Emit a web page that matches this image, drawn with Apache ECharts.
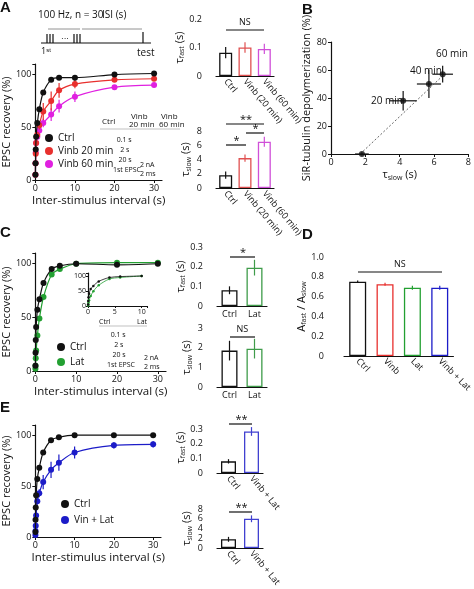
<!DOCTYPE html>
<html><head><meta charset="utf-8">
<script src="https://cdn.jsdelivr.net/npm/echarts@6/dist/echarts.min.js"></script>
<style>html,body{margin:0;padding:0;background:#fff}#c{width:474px;height:589px}</style>
</head><body><div id="c"></div>
<script>
// recovery curves
const isi = [0.02, 0.05, 0.1, 0.2, 0.5, 1, 2, 4, 6, 10, 20, 30];
const aCtrl = [5, 16, 29, 41, 54, 67, 83, 95, 97, 97, 100, 101];
const aVinb20 = [5, 16, 25, 35, 43, 52, 65, 75, 85, 91, 95, 96];
const aVinb20Err = [0, 0, 0, 0, 2, 4, 8, 9, 7, 4, 2, 2];
const aVinb60 = [5, 16, 26, 35, 41, 47, 54, 62, 70, 79, 88, 90];
const aVinb60Err = [0, 0, 0, 0, 2, 3, 4, 6, 6, 5, 2, 2];
const cCtrl = [5, 17, 29, 41, 57, 67, 82, 95, 98, 100, 99, 100];
const cLat = [2, 5, 12, 19, 33, 49, 69, 90, 95, 100, 101, 101];
const eCtrl = [5, 17, 29, 41, 57, 68, 83, 95, 98, 100, 100, 100];
const eVinLat = [2, 6, 11, 21, 35, 43, 54, 66, 73, 83, 90, 91];
const eVinLatErr = [0, 0, 0, 2, 3, 4, 7, 8, 8, 6, 3, 3];

// bar panels
const aCats = ["Ctrl", "Vinb (20 min)", "Vinb (60 min)"];
const aFast = [0.082, 0.1, 0.095], aFastErr = [0.02, 0.018, 0.018];
const aSlow = [1.8, 4.2, 6.5], aSlowErr = [0.5, 0.5, 0.7];
const cCats = ["Ctrl", "Lat"];
const cFast = [0.08, 0.195], cFastErr = [0.02, 0.04];
const cSlow = [1.85, 1.95], cSlowErr = [0.5, 0.5];
const dCats = ["Ctrl", "Vinb", "Lat", "Vinb + Lat"];
const dRatio = [0.75, 0.725, 0.69, 0.69], dRatioErr = [0.012, 0.015, 0.02, 0.02];
const eCats = ["Ctrl", "Vinb + Lat"];
const eFast = [0.08, 0.285], eFastErr = [0.015, 0.03];
const eSlow = [1.8, 6.0], eSlowErr = [0.5, 0.7];

// panel B
const bLabels = ["", "20 min", "40 min", "60 min"];
const bTau = [1.8, 4.2, 5.7, 6.5], bTauErr = [0.4, 0.8, 0.7, 0.6];
const bDepol = [0, 38, 50, 57], bDepolErr = [1, 7, 10, 6];

const BLACK = "#111", RED = "#e8302e", MAG = "#e020e0", GREEN = "#23a032", BLUE = "#1c1cc8";
const FONT = "Open Sans";
const grid = [], xAxis = [], yAxis = [], series = [], legend = [];

const axisBase = {
  axisLine: { lineStyle: { color: BLACK, width: 1.2 } },
  axisTick: { lineStyle: { color: BLACK } , length: 3},
  axisLabel: { color: BLACK, fontSize: 9, fontFamily: FONT, margin: 4 },
  splitLine: { show: false },
  nameTextStyle: { color: BLACK, fontSize: 11, fontFamily: FONT,
    rich: { s: { fontSize: 7, verticalAlign: "bottom", padding: [6, 0, 0, 0] } } }
};

function addGrid(g) { grid.push(Object.assign({ containLabel: false }, g)); return grid.length - 1; }

function errSeries(gi, data, color, horiz) {
  series.push({
    type: "custom", xAxisIndex: gi, yAxisIndex: gi, silent: true, z: 3,
    data: data,
    renderItem: (p, api) => {
      const x = api.value(0), y = api.value(1), e = api.value(2);
      const a = horiz ? api.coord([x - e, y]) : api.coord([x, y - e]);
      const b = horiz ? api.coord([x + e, y]) : api.coord([x, y + e]);
      return { type: "line", shape: { x1: a[0], y1: a[1], x2: b[0], y2: b[1] },
        style: { stroke: color, lineWidth: 1.2 } };
    }
  });
}

function recovery(g, lines, yName) {
  const gi = addGrid(g);
  xAxis.push(Object.assign({}, axisBase, { gridIndex: gi, type: "value", min: 0, max: 32, interval: 10,
    name: "Inter-stimulus interval (s)", nameLocation: "middle", nameGap: 15,
    nameTextStyle: Object.assign({}, axisBase.nameTextStyle, { fontSize: 11.5 }) }));
  yAxis.push(Object.assign({}, axisBase, { gridIndex: gi, type: "value", min: 0, max: 110, interval: 50,
    axisLabel: Object.assign({}, axisBase.axisLabel, { formatter: v => Number(v) > 100 ? "" : v }),
    name: yName, nameLocation: "middle", nameGap: 20, nameRotate: 90 }));
  lines.forEach(l => {
    series.push({ type: "line", name: l.name, xAxisIndex: gi, yAxisIndex: gi, smooth: 0.3,
      symbol: "circle", symbolSize: l.size || 6, showSymbol: true,
      itemStyle: { color: l.color }, lineStyle: { color: l.color, width: 1.2 },
      data: isi.map((x, i) => [x, l.y[i]]).filter(d => d[0] <= (l.xmax || 99)), z: l.z || 2 });
    if (l.err) errSeries(gi, isi.map((x, i) => [x, l.y[i], l.err[i]]).filter(d => d[2] > 0), l.color);
  });
  return gi;
}

function sub(main, s, unit) { return "{m|" + main + "}{s|" + s + "}" + (unit || ""); }

function bars(g, cats, vals, errs, colors, o) {
  const gi = addGrid(g);
  xAxis.push(Object.assign({}, axisBase, { gridIndex: gi, type: "category", data: cats,
    axisTick: { show: false },
    axisLabel: Object.assign({}, axisBase.axisLabel, { rotate: o.rotate || 0, interval: 0, fontSize: 9 }) }));
  yAxis.push(Object.assign({}, axisBase, { gridIndex: gi, type: "value", min: 0, max: o.max, interval: o.interval,
    offset: o.offset || 0,
    axisLabel: Object.assign({}, axisBase.axisLabel, { formatter: o.fmt || (v => v) }),
    name: o.name, nameLocation: "middle", nameGap: o.nameGap || 18, nameRotate: 90,
    nameTextStyle: Object.assign({}, axisBase.nameTextStyle, { fontSize: o.nameSize || 11,
      rich: { m: { fontSize: o.nameSize || 11, fontFamily: FONT }, s: { fontSize: 7, fontFamily: FONT, padding: [5, 0, 0, 0] } } }) }));
  series.push({ type: "bar", xAxisIndex: gi, yAxisIndex: gi, barWidth: o.barWidth || 14,
    data: vals.map((v, i) => ({ value: v, itemStyle: { color: "#fff", borderColor: colors[i], borderWidth: 1.3 } })) });
  series.push({
    type: "custom", xAxisIndex: gi, yAxisIndex: gi, silent: true, z: 3,
    data: vals.map((v, i) => [i, v, errs[i]]),
    renderItem: (p, api) => {
      const i = api.value(0), v = api.value(1), e = api.value(2);
      const a = api.coord([i, v - e]), b = api.coord([i, v + e]);
      return { type: "line", shape: { x1: a[0], y1: a[1], x2: b[0], y2: b[1] },
        style: { stroke: colors[i], lineWidth: 1.2 } };
    }
  });
}

// Panel A
recovery({ left: 31, top: 64, width: 131, height: 116 }, [
  { name: "Vinb 60 min", y: aVinb60, err: aVinb60Err, color: MAG },
  { name: "Vinb 20 min", y: aVinb20, err: aVinb20Err, color: RED },
  { name: "Ctrl", y: aCtrl, color: BLACK, z: 4 }
], "EPSC recovery (%)");
legend.push({ left: 40, top: 128, orient: "vertical", itemGap: 3, itemWidth: 8, itemHeight: 8, selectedMode: false,
  data: ["Ctrl", "Vinb 20 min", "Vinb 60 min"].map(n => ({ name: n, icon: "circle" })),
  textStyle: { fontSize: 10, fontFamily: FONT, color: BLACK } });
const aColors = [BLACK, "#e05050", "#d050d8"];
bars({ left: 216, top: 19, width: 58, height: 57 }, aCats, aFast, aFastErr, aColors,
  { max: 0.2, interval: 0.1, offset: 10, rotate: -50, name: sub("τ", "fast", " (s)"), barWidth: 13 });
bars({ left: 216, top: 131, width: 58, height: 57 }, aCats, aSlow, aSlowErr, aColors,
  { max: 8, interval: 2, offset: 10, rotate: -50, name: sub("τ", "slow", " (s)"), barWidth: 13, nameGap: 14 });

// Panel B
const gB = addGrid({ left: 331, top: 42, width: 140, height: 112 });
xAxis.push(Object.assign({}, axisBase, { gridIndex: gB, type: "value", min: 0, max: 8, interval: 2,
  name: sub("τ", "slow", " (s)"), nameLocation: "middle", nameGap: 15,
  nameTextStyle: Object.assign({}, axisBase.nameTextStyle, { rich: { m: { fontSize: 11 }, s: { fontSize: 7, padding: [5, 0, 0, 0] } } }) }));
yAxis.push(Object.assign({}, axisBase, { gridIndex: gB, type: "value", min: 0, max: 80, interval: 20,
  name: "SiR-tubulin depolymerization (%)", nameLocation: "middle", nameGap: 18, nameRotate: 90 }));
series.push({ type: "line", xAxisIndex: gB, yAxisIndex: gB, symbol: "none", silent: true,
  lineStyle: { color: "#555", width: 0.9, type: [2, 2] },
  data: [[bTau[0] - 0.1, bDepol[0]], [bTau[3] + 0.1, bDepol[3]]] });
errSeries(gB, bTau.map((x, i) => [x, bDepol[i], bTauErr[i]]), BLACK, true);
errSeries(gB, bTau.map((x, i) => [x, bDepol[i], bDepolErr[i]]), BLACK, false);
series.push({ type: "scatter", xAxisIndex: gB, yAxisIndex: gB, symbolSize: 6, itemStyle: { color: BLACK }, z: 4,
  data: bTau.map((x, i) => [x, bDepol[i]]) });

// Panel C
recovery({ left: 31, top: 253, width: 135, height: 118 }, [
  { name: "Lat", y: cLat, color: GREEN },
  { name: "Ctrl", y: cCtrl, color: BLACK, z: 4 }
], "EPSC recovery (%)");
legend.push({ left: 52, top: 337, orient: "vertical", itemGap: 5, itemWidth: 8, itemHeight: 8, selectedMode: false,
  data: ["Ctrl", "Lat"].map(n => ({ name: n, icon: "circle" })),
  textStyle: { fontSize: 10, fontFamily: FONT, color: BLACK } });
// C inset
const gCi = addGrid({ left: 88, top: 273, width: 59, height: 33 });
xAxis.push(Object.assign({}, axisBase, { gridIndex: gCi, type: "value", min: 0, max: 11, interval: 5,
  axisLabel: Object.assign({}, axisBase.axisLabel, { fontSize: 7, margin: 2, formatter: v => Number(v) > 10 ? "" : v }), axisTick: { length: 2 } }));
yAxis.push(Object.assign({}, axisBase, { gridIndex: gCi, type: "value", min: 0, max: 110, interval: 50,
  axisLabel: Object.assign({}, axisBase.axisLabel, { fontSize: 7, margin: 2, formatter: v => Number(v) > 100 ? "" : v }), axisTick: { length: 2 } }));
[[cLat, GREEN], [cCtrl, BLACK]].forEach(([ys, col]) => series.push({ type: "line", xAxisIndex: gCi, yAxisIndex: gCi,
  smooth: 0.3, symbol: "circle", symbolSize: 2.5, itemStyle: { color: col }, lineStyle: { color: col, width: 0.8 },
  data: isi.map((x, i) => [x, ys[i]]).filter(d => d[0] <= 10) }));
bars({ left: 217, top: 247, width: 50, height: 59 }, cCats, cFast, cFastErr, [BLACK, "#3f9c4a"],
  { max: 0.3, interval: 0.1, offset: 10, name: sub("τ", "fast", " (s)"), barWidth: 16 });
bars({ left: 217, top: 328, width: 50, height: 59 }, cCats, cSlow, cSlowErr, [BLACK, "#3f9c4a"],
  { max: 3, interval: 1, offset: 10, name: sub("τ", "slow", " (s)"), barWidth: 16, nameGap: 14 });

// Panel D
bars({ left: 344, top: 257, width: 112, height: 99 }, dCats, dRatio, dRatioErr, [BLACK, RED, GREEN, BLUE],
  { max: 1.0, interval: 0.2, offset: 16, rotate: -45, name: "{m|A}{s|fast}{m| / A}{s|slow}", barWidth: 17, nameGap: 20,
    fmt: v => Number(v) === 0 ? "0" : Number(v).toFixed(1) });

// Panel E
recovery({ left: 31, top: 425, width: 130, height: 112 }, [
  { name: "Vin + Lat", y: eVinLat, err: eVinLatErr, color: BLUE },
  { name: "Ctrl", y: eCtrl, color: BLACK, z: 4 }
], "EPSC recovery (%)");
legend.push({ left: 56, top: 494, orient: "vertical", itemGap: 6, itemWidth: 8, itemHeight: 8, selectedMode: false,
  data: ["Ctrl", "Vin + Lat"].map(n => ({ name: n, icon: "circle" })),
  textStyle: { fontSize: 10, fontFamily: FONT, color: BLACK } });
bars({ left: 217, top: 422, width: 46, height: 51 }, eCats, eFast, eFastErr, [BLACK, "#4040d0"],
  { max: 0.35, interval: 0.1, offset: 10, rotate: -50, name: sub("τ", "fast", " (s)"), barWidth: 15,
    fmt: v => Number(v) > 0.31 ? "" : String(+Number(v).toFixed(1)) });
bars({ left: 217, top: 509, width: 46, height: 51 }, eCats, eSlow, eSlowErr, [BLACK, "#4040d0"],
  { max: 8, interval: 2, offset: 10, rotate: -50, name: sub("τ", "slow", " (s)"), barWidth: 15, nameGap: 14 });

// decorations
const T = (x, y, text, o) => Object.assign({ type: "text", left: x, top: y,
  style: { text: text, fontSize: 10, fontFamily: FONT, fill: BLACK } }, o || {});
const L = (x1, y1, x2, y2, w, c) => ({ type: "line", shape: { x1, y1, x2, y2 }, style: { stroke: c || BLACK, lineWidth: w || 1.2 } });
const bold = t => ({ text: t, fontSize: 15, fontWeight: "bold", fontFamily: "Liberation Sans", fill: BLACK });
const sig = (x1, x2, y, t) => [L(x1, y, x2, y), T((x1 + x2) / 2 - (t === "NS" ? 6 : t.length * 2.5), y - (t === "NS" ? 12 : 10), t, { style: { text: t, fontSize: t === "NS" ? 9 : 11, fontFamily: FONT, fill: BLACK } })];
const graphic = [
  { type: "text", left: 0, top: 0, style: bold("A") },
  { type: "text", left: 302, top: 2, style: bold("B") },
  { type: "text", left: 0, top: 225, style: bold("C") },
  { type: "text", left: 302, top: 227, style: bold("D") },
  { type: "text", left: 0, top: 400, style: bold("E") },
  // stimulus schematic
  T(38, 10, "100 Hz, n = 30"), T(102, 10, "ISI (s)"), T(137, 48, "test"),
  { type: "text", left: 41, top: 47, style: { text: "1{s|st}", fontSize: 9, fill: BLACK, fontFamily: FONT, rich: { s: { fontSize: 6, verticalAlign: "top" } } } },
  L(41, 43, 151, 43), L(47, 43, 47, 34), L(50, 43, 50, 34), L(53, 43, 53, 34),
  L(74, 43, 74, 34), L(77, 43, 77, 34), L(80, 43, 80, 34), L(143, 43, 143, 32),
  L(48, 29, 80, 29, 0.8, "#777"), L(82, 29, 142, 29, 0.8, "#777"),
  T(61, 35, "···", { style: { text: "···", fontSize: 8, fill: BLACK } }),
  // A inset labels
  T(102, 118, "Ctrl", { style: { text: "Ctrl", fontSize: 8, fontFamily: FONT, fill: BLACK } }),
  T(129, 113, "Vinb\n20 min", { style: { text: " Vinb\n20 min", fontSize: 8, fontFamily: FONT, fill: BLACK } }),
  T(159, 113, "Vinb\n60 min", { style: { text: " Vinb\n60 min", fontSize: 8, fontFamily: FONT, fill: BLACK } }),
  T(113, 135, "0.1 s\n2 s\n20 s\n1st EPSC", { style: { text: "  0.1 s\n    2 s\n   20 s\n1st EPSC", fontSize: 7, lineHeight: 10, fontFamily: FONT, fill: BLACK } }),
  T(140, 160, "2 nA\n2 ms", { style: { text: "2 nA\n2 ms", fontSize: 7, lineHeight: 9, fontFamily: FONT, fill: BLACK } }),
  L(100, 129, 180, 129, 0.6, "#999"),
  // C inset trace labels
  T(99, 318, "Ctrl", { style: { text: "Ctrl", fontSize: 7, fontFamily: FONT, fill: BLACK } }),
  T(137, 318, "Lat", { style: { text: "Lat", fontSize: 7, fontFamily: FONT, fill: BLACK } }),
  T(107, 330, "0.1 s\n2 s\n20 s\n1st EPSC", { style: { text: "  0.1 s\n    2 s\n   20 s\n1st EPSC", fontSize: 7, lineHeight: 10, fontFamily: FONT, fill: BLACK } }),
  T(144, 353, "2 nA\n2 ms", { style: { text: "2 nA\n2 ms", fontSize: 7, lineHeight: 9, fontFamily: FONT, fill: BLACK } }),
  L(99, 326, 147, 326, 0.6, "#999"),
  // B labels
  T(371, 96, bLabels[1]), T(410, 66, bLabels[2]), T(436, 49, bLabels[3]),
  ...sig(226, 264, 30, "NS"),
  ...sig(226, 246, 145, "*"), ...sig(246, 264, 133, "*"), ...sig(226, 264, 124, "**"),
  ...sig(230, 255, 257, "*"), ...sig(230, 255, 337, "NS"),
  ...sig(358, 442, 272, "NS"),
  ...sig(229, 252, 424, "**"), ...sig(229, 252, 512, "**")
];

const chart = echarts.init(document.getElementById("c"));
chart.setOption({ animation: false, textStyle: { fontFamily: FONT }, grid, xAxis, yAxis, series, legend, graphic });
</script></body></html>
